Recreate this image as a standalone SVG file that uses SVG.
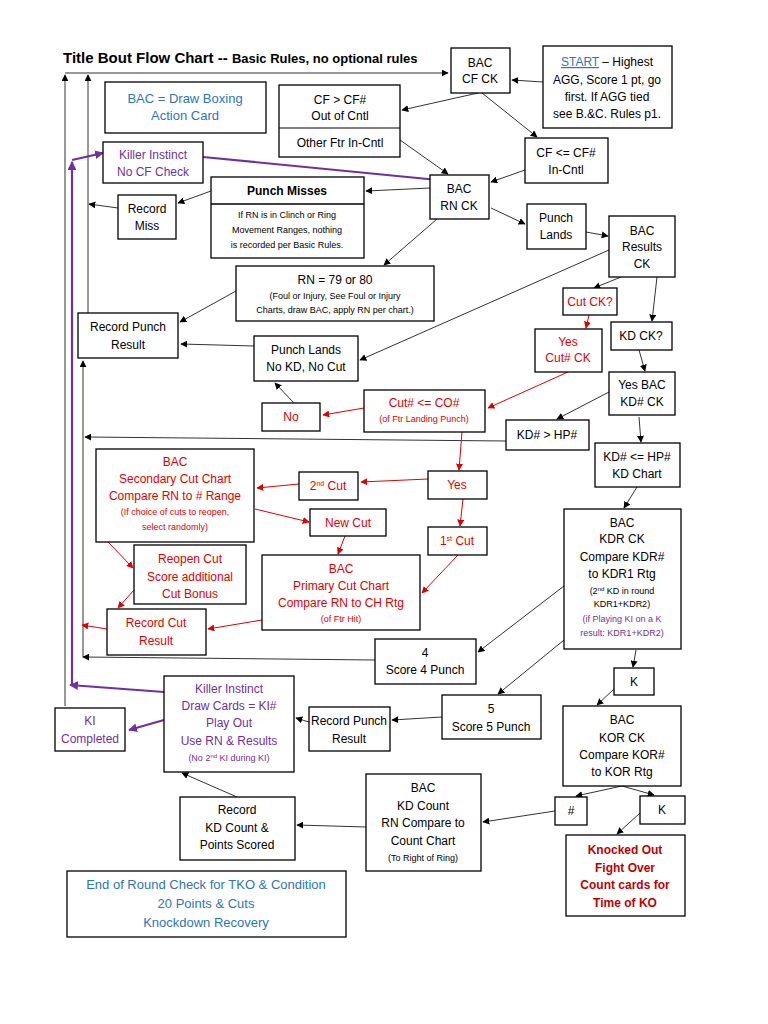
<svg xmlns="http://www.w3.org/2000/svg" width="768" height="1024" viewBox="0 0 768 1024">
<style>
.b{fill:#fff;stroke:#000;stroke-width:1.3}
text{font-family:"Liberation Sans",Arial,sans-serif;font-size:12px;text-anchor:middle;fill:#000}
.r{fill:#e00000}.p{fill:#7030a0}.bl{fill:#2e75b6}.dr{fill:#c00000}
.s{font-size:9px}
.c line,.c path{stroke:#333;stroke-width:1;fill:none;marker-end:url(#a)}
.c .rd{stroke:#e00000;marker-end:url(#ar)}
.c .pu{stroke:#7030a0;stroke-width:2.2;marker-end:url(#ap)}
.c .nm{marker-end:none}
</style>
<defs>
<marker id="a" viewBox="0 0 10 10" refX="9" refY="5" markerWidth="7" markerHeight="7" orient="auto"><path d="M0,0L10,5L0,10z" fill="#000"/></marker>
<marker id="ar" viewBox="0 0 10 10" refX="9" refY="5" markerWidth="7" markerHeight="7" orient="auto"><path d="M0,0L10,5L0,10z" fill="#e00000"/></marker>
<marker id="ap" viewBox="0 0 10 10" refX="9" refY="5" markerWidth="4" markerHeight="4" orient="auto"><path d="M0,0L10,5L0,10z" fill="#7030a0"/></marker>
</defs>
<rect width="768" height="1024" fill="#fff"/>
<text x="63" y="63" style="text-anchor:start;font-size:15px;font-weight:bold">Title Bout Flow Chart -- <tspan style="font-size:13px">Basic Rules, no optional rules</tspan></text>

<g class="c">
<line x1="65" y1="706" x2="65" y2="75"/>
<line x1="65" y1="73" x2="448" y2="73"/>
<line x1="88" y1="313" x2="88" y2="75"/>
<line x1="83" y1="657" x2="83" y2="361"/>
<line x1="543" y1="82" x2="512" y2="80"/>
<line x1="478" y1="93" x2="402" y2="110"/>
<line x1="482" y1="93" x2="537" y2="137"/>
<line x1="400" y1="140" x2="448" y2="174"/>
<line x1="525" y1="170" x2="491" y2="182"/>
<line x1="430" y1="188" x2="366" y2="191"/>
<line x1="211" y1="191" x2="178" y2="203"/>
<line x1="118" y1="208" x2="89" y2="204"/>
<line x1="491" y1="208" x2="525" y2="224"/>
<line x1="437" y1="219" x2="384" y2="265"/>
<line x1="236" y1="291" x2="180" y2="322"/>
<line x1="586" y1="232" x2="608" y2="236"/>
<line x1="609" y1="250" x2="360" y2="360"/>
<line x1="621" y1="277" x2="594" y2="288"/>
<line x1="657" y1="277" x2="652" y2="321"/>
<line class="rd" x1="589" y1="315" x2="586" y2="328"/>
<line class="rd" x1="568" y1="372" x2="488" y2="408"/>
<line x1="639" y1="350" x2="645" y2="371"/>
<line x1="609" y1="392" x2="557" y2="419"/>
<line x1="639" y1="417" x2="641" y2="442"/>
<line x1="506" y1="441" x2="85" y2="437"/>
<line x1="254" y1="346" x2="181" y2="344"/>
<line x1="294" y1="403" x2="275" y2="383"/>
<line class="rd" x1="364" y1="408" x2="323" y2="415"/>
<line class="rd" x1="462" y1="432" x2="459" y2="470"/>
<line class="rd" x1="428" y1="479" x2="361" y2="482"/>
<line class="rd" x1="299" y1="484" x2="257" y2="488"/>
<line class="rd" x1="255" y1="509" x2="309" y2="522"/>
<line class="rd" x1="345" y1="536" x2="338" y2="554"/>
<line class="rd" x1="463" y1="499" x2="460" y2="526"/>
<line class="rd" x1="458" y1="555" x2="422" y2="593"/>
<line class="rd" x1="108" y1="542" x2="133" y2="568"/>
<line class="rd" x1="134" y1="590" x2="118" y2="608"/>
<line class="rd" x1="262" y1="620" x2="208" y2="629"/>
<line class="rd" x1="107" y1="629" x2="82" y2="625"/>
<line x1="637" y1="487" x2="624" y2="508"/>
<line x1="564" y1="586" x2="478" y2="652"/>
<line x1="375" y1="660" x2="83" y2="657"/>
<line x1="564" y1="640" x2="498" y2="694"/>
<line x1="636" y1="650" x2="633" y2="667"/>
<line x1="614" y1="689" x2="597" y2="705"/>
<line x1="442" y1="717" x2="392" y2="720"/>
<line x1="309" y1="722" x2="296" y2="718"/>
<line x1="622" y1="786" x2="576" y2="796"/>
<line x1="622" y1="786" x2="654" y2="795"/>
<line x1="555" y1="811" x2="483" y2="822"/>
<line x1="640" y1="813" x2="617" y2="834"/>
<line x1="366" y1="827" x2="297" y2="825"/>
<line x1="237" y1="797" x2="182" y2="773"/>
<path class="pu" d="M203,157 L438,180"/>
<path class="pu" d="M164,720 L129,730"/>
<path class="pu" d="M164,692 L70,685"/>
<path class="pu" d="M72,686 L72,162"/>
<path class="pu" d="M72,160 L103,153"/>
</g>

<g id="bacdef"><rect class="b" x="105" y="82" width="161" height="51"/><text class="bl" x="185" y="103" style="font-size:13px">BAC = Draw Boxing</text><text class="bl" x="185" y="120" style="font-size:13px">Action Card</text></g>
<g id="cfgt"><rect class="b" x="279" y="85" width="121" height="72"/><line x1="279" y1="128" x2="400" y2="128" stroke="#000"/><text x="340" y="104">CF &gt; CF#</text><text x="340" y="120">Out of Cntl</text><text x="340" y="147">Other Ftr In-Cntl</text></g>
<g id="baccf"><rect class="b" x="451" y="48" width="59" height="45"/><text x="480" y="67">BAC</text><text x="480" y="83">CF CK</text></g>
<g id="start"><rect class="b" x="543" y="46" width="129" height="82"/><text x="607" y="66"><tspan class="bl" text-decoration="underline">START</tspan> – Highest</text><text x="607" y="84">AGG, Score 1 pt, go</text><text x="607" y="101">first. If AGG tied</text><text x="607" y="118">see B.&amp;C. Rules p1.</text></g>
<g id="kinocf"><rect class="b" x="103" y="142" width="100" height="41"/><text class="p" x="153" y="159">Killer Instinct</text><text class="p" x="153" y="176">No CF Check</text></g>
<g id="misses"><rect class="b" x="211" y="177" width="153" height="81"/><line x1="211" y1="204" x2="364" y2="204" stroke="#000" stroke-width="1.5"/><text x="287" y="195" style="font-weight:bold">Punch Misses</text><text class="s" x="287" y="218">If RN is in Clinch or Ring</text><text class="s" x="287" y="233">Movement Ranges, nothing</text><text class="s" x="287" y="248">is recorded per Basic Rules.</text></g>
<g id="recmiss"><rect class="b" x="118" y="195" width="58" height="44"/><text x="147" y="213">Record</text><text x="147" y="230">Miss</text></g>
<g id="bacrn"><rect class="b" x="430" y="175" width="59" height="44"/><text x="459" y="193">BAC</text><text x="459" y="210">RN CK</text></g>
<g id="cfle"><rect class="b" x="525" y="138" width="83" height="45"/><text x="566" y="157">CF &lt;= CF#</text><text x="566" y="174">In-Cntl</text></g>
<g id="plands"><rect class="b" x="527" y="204" width="59" height="45"/><text x="556" y="222">Punch</text><text x="556" y="239">Lands</text></g>
<g id="bacres"><rect class="b" x="609" y="216" width="66" height="61"/><text x="642" y="235">BAC</text><text x="642" y="251">Results</text><text x="642" y="268">CK</text></g>
<g id="rn79"><rect class="b" x="236" y="266" width="198" height="55"/><text x="335" y="284">RN = 79 or 80</text><text class="s" x="335" y="299">(Foul or Injury, See Foul or Injury</text><text class="s" x="335" y="313">Charts, draw BAC, apply RN per chart.)</text></g>
<g id="recpr"><rect class="b" x="78" y="313" width="100" height="45"/><text x="128" y="331">Record Punch</text><text x="128" y="349">Result</text></g>
<g id="plnokd"><rect class="b" x="254" y="336" width="104" height="45"/><text x="306" y="354">Punch Lands</text><text x="306" y="371">No KD, No Cut</text></g>
<g id="cutck"><rect class="b" x="563" y="288" width="54" height="27"/><text class="r" x="590" y="306">Cut CK?</text></g>
<g id="yescut"><rect class="b" x="535" y="329" width="67" height="43"/><text class="r" x="568" y="346">Yes</text><text class="r" x="568" y="362">Cut# CK</text></g>
<g id="kdck"><rect class="b" x="611" y="322" width="61" height="28"/><text x="641" y="340">KD CK?</text></g>
<g id="yeskd"><rect class="b" x="609" y="372" width="66" height="43"/><text x="642" y="389">Yes BAC</text><text x="642" y="406">KD# CK</text></g>
<g id="no"><rect class="b" x="262" y="403" width="58" height="28"/><text class="r" x="291" y="421">No</text></g>
<g id="cutco"><rect class="b" x="364" y="390" width="121" height="42"/><text class="r" x="424" y="407">Cut# &lt;= CO#</text><text class="r s" x="424" y="422">(of Ftr Landing Punch)</text></g>
<g id="kdgt"><rect class="b" x="506" y="420" width="83" height="30"/><text x="547" y="439">KD# &gt; HP#</text></g>
<g id="kdle"><rect class="b" x="595" y="443" width="85" height="44"/><text x="637" y="461">KD# &lt;= HP#</text><text x="637" y="478">KD Chart</text></g>
<g id="seccut"><rect class="b" x="96" y="449" width="158" height="93"/><text class="r" x="175" y="466">BAC</text><text class="r" x="175" y="483">Secondary Cut Chart</text><text class="r" x="175" y="500">Compare RN to # Range</text><text class="r s" x="175" y="515">(If choice of cuts to reopen,</text><text class="r s" x="175" y="530">select randomly)</text></g>
<g id="cut2"><rect class="b" x="299" y="472" width="59" height="28"/><text class="r" x="328" y="490">2<tspan dy="-4" style="font-size:7px">nd</tspan><tspan dy="4"> Cut</tspan></text></g>
<g id="yes"><rect class="b" x="428" y="471" width="59" height="28"/><text class="r" x="457" y="489">Yes</text></g>
<g id="newcut"><rect class="b" x="310" y="509" width="76" height="27"/><text class="r" x="348" y="527">New Cut</text></g>
<g id="cut1"><rect class="b" x="428" y="527" width="59" height="28"/><text class="r" x="457" y="545">1<tspan dy="-4" style="font-size:7px">st</tspan><tspan dy="4"> Cut</tspan></text></g>
<g id="kdr"><rect class="b" x="564" y="509" width="117" height="140"/><text x="622" y="527">BAC</text><text x="622" y="543">KDR CK</text><text x="622" y="561">Compare KDR#</text><text x="622" y="578">to KDR1 Rtg</text><text class="s" x="622" y="594">(2<tspan dy="-3" style="font-size:6px">nd</tspan><tspan dy="3"> KD in round</tspan></text><text class="s" x="622" y="607">KDR1+KDR2)</text><text class="p s" x="622" y="622">(if Playing KI on a K</text><text class="p s" x="622" y="636">result: KDR1+KDR2)</text></g>
<g id="reopen"><rect class="b" x="134" y="545" width="112" height="59"/><text class="r" x="190" y="563">Reopen Cut</text><text class="r" x="190" y="581">Score additional</text><text class="r" x="190" y="598">Cut Bonus</text></g>
<g id="primcut"><rect class="b" x="262" y="555" width="158" height="75"/><text class="r" x="341" y="573">BAC</text><text class="r" x="341" y="590">Primary Cut Chart</text><text class="r" x="341" y="607">Compare RN to CH Rtg</text><text class="r s" x="341" y="622">(of Ftr Hit)</text></g>
<g id="reccut"><rect class="b" x="107" y="609" width="99" height="46"/><text class="r" x="156" y="627">Record Cut</text><text class="r" x="156" y="645">Result</text></g>
<g id="s4"><rect class="b" x="375" y="639" width="101" height="45"/><text x="425" y="657">4</text><text x="425" y="674">Score 4 Punch</text></g>
<g id="k1"><rect class="b" x="614" y="668" width="40" height="27"/><text x="634" y="686">K</text></g>
<g id="kidraw"><rect class="b" x="164" y="676" width="130" height="96"/><text class="p" x="229" y="693">Killer Instinct</text><text class="p" x="229" y="710">Draw Cards = KI#</text><text class="p" x="229" y="727">Play Out</text><text class="p" x="229" y="745">Use RN &amp; Results</text><text class="p s" x="229" y="761">(No 2<tspan dy="-3" style="font-size:6px">nd</tspan><tspan dy="3"> KI during KI)</tspan></text></g>
<g id="recpr2"><rect class="b" x="309" y="707" width="81" height="44"/><text x="349" y="725">Record Punch</text><text x="349" y="743">Result</text></g>
<g id="s5"><rect class="b" x="442" y="695" width="99" height="44"/><text x="491" y="713">5</text><text x="491" y="731">Score 5 Punch</text></g>
<g id="kor"><rect class="b" x="563" y="706" width="118" height="80"/><text x="622" y="724">BAC</text><text x="622" y="742">KOR CK</text><text x="622" y="759">Compare KOR#</text><text x="622" y="776">to KOR Rtg</text></g>
<g id="kicomp"><rect class="b" x="55" y="708" width="70" height="43"/><text class="p" x="90" y="725">KI</text><text class="p" x="90" y="743">Completed</text></g>
<g id="kdcount"><rect class="b" x="366" y="774" width="115" height="97"/><text x="423" y="792">BAC</text><text x="423" y="810">KD Count</text><text x="423" y="827">RN Compare to</text><text x="423" y="845">Count Chart</text><text class="s" x="423" y="861">(To Right of Ring)</text></g>
<g id="reckd"><rect class="b" x="180" y="797" width="115" height="63"/><text x="237" y="814">Record</text><text x="237" y="832">KD Count &amp;</text><text x="237" y="849">Points Scored</text></g>
<g id="hash"><rect class="b" x="555" y="797" width="32" height="28"/><text x="571" y="815">#</text></g>
<g id="k2"><rect class="b" x="640" y="796" width="45" height="28"/><text x="662" y="814">K</text></g>
<g id="ko"><rect class="b" x="566" y="835" width="119" height="81"/><text class="dr" x="625" y="854" style="font-weight:bold">Knocked Out</text><text class="dr" x="625" y="872" style="font-weight:bold">Fight Over</text><text class="dr" x="625" y="889" style="font-weight:bold">Count cards for</text><text class="dr" x="625" y="907" style="font-weight:bold">Time of KO</text></g>
<g id="eor"><rect class="b" x="67" y="871" width="279" height="66"/><text class="bl" x="206" y="889" style="font-size:13px">End of Round Check for TKO &amp; Condition</text><text class="bl" x="206" y="908" style="font-size:13px">20 Points &amp; Cuts</text><text class="bl" x="206" y="927" style="font-size:13px">Knockdown Recovery</text></g>
</svg>
